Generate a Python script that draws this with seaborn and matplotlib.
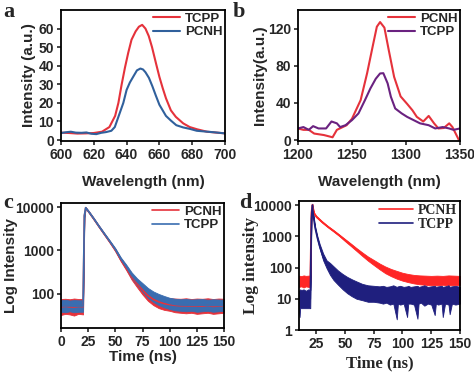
import numpy as np
import pandas as pd
import matplotlib
matplotlib.use("Agg")
import matplotlib.pyplot as plt
import seaborn as sns

# ---- panel a: emission spectra (600-700 nm)
a_wl_tcpp = [600, 605, 610, 615, 620, 625, 629.5, 633, 635, 637, 639, 641, 643, 645.5, 647.5,
             649.5, 651.5, 653.5, 655.5, 658, 660, 662, 664, 667, 670, 674.5, 678.5, 683,
             689, 695, 700]
a_tcpp = [4, 3.8, 3.5, 3.6, 3.8, 4.5, 7, 13, 20, 30, 39, 47, 54, 58.5, 61,
          62, 60, 56, 50, 41, 34, 28, 22.5, 16, 12.5, 9, 7, 5.8,
          4.5, 4, 3.6]
a_wl_pcnh = [600, 603, 606, 609, 612.5, 615.5, 618.5, 621.5, 624.5, 627.5, 630.7, 632.8, 636,
             638, 640, 642, 644.3, 646.3, 648.4, 650, 651.5, 653.6, 655.7, 657.8, 660, 662,
             664, 667, 670.3, 674.5, 678.7, 682.8, 688, 693.3, 700]
a_pcnh = [3.8, 4.2, 4.5, 4.0, 3.9, 4.1, 3.4, 3.2, 3.9, 4.3, 5, 7, 15,
          20, 27, 31, 34.5, 37.5, 38.5, 38, 36.5, 33.5, 29, 24, 19, 16,
          13, 10.5, 8, 6.8, 6, 5, 4.6, 4.2, 3.6]
a_yticks = [0, 10, 20, 30, 40, 50, 60]

# ---- panel b: NIR emission (1200-1350 nm)
b_wl_pcnh = [1200, 1205, 1210, 1215, 1224, 1232, 1236, 1245, 1250, 1258, 1264, 1269, 1273,
             1276, 1280, 1284, 1289, 1295, 1301, 1306, 1310, 1316, 1321, 1326, 1330, 1335,
             1340, 1343, 1346, 1349]
b_pcnh = [12.5, 11, 11, 7, 5.4, 3, 11, 16, 23, 43, 72, 100, 122,
          127, 121, 97, 68, 47, 39, 32, 25, 20, 26, 18, 12.5, 13,
          18, 14, 7, 0]
b_wl_tcpp = [1200, 1205, 1210, 1214, 1219, 1226, 1231, 1236, 1239, 1244, 1250, 1256, 1262,
             1267, 1272, 1276, 1279, 1283, 1286, 1290, 1296, 1301, 1307, 1313, 1321, 1327,
             1334, 1340, 1344, 1350]
b_tcpp = [12.5, 14, 11, 15, 12.5, 12.5, 20, 18, 14, 16, 21.5, 28.7, 43,
          55.5, 66, 71.7, 72, 61, 46.6, 34, 28.7, 25, 21.5, 18, 16, 12.5,
          14, 12.5, 11, 12.5]
b_yticks = [0, 40, 80, 120]

# ---- panel c: decay curves (noise band given as low / high envelopes)
c_t = [0, 4, 8, 12, 16, 20.3, 21.5, 22.7, 26, 30, 35, 40, 45, 50, 55, 60, 65, 70, 75,
       80, 85, 90, 95, 100, 105, 110, 115, 120, 125, 130, 135, 140, 145, 150]
c_pcnh_lo = [32, 34, 33, 31, 34, 33, 5700, 9400, 7200, 5200, 3400, 2250, 1480, 950, 560,
             350, 210, 140, 95, 68, 54, 46, 42, 40, 37, 36, 35, 36, 34, 35, 36, 34, 35, 36]
c_pcnh_hi = [75, 76, 74, 77, 75, 75, 6900, 10000, 7800, 5650, 3700, 2450, 1640, 1090, 660,
             440, 290, 210, 160, 120, 100, 90, 82, 78, 77, 76, 78, 75, 77, 76, 78, 75, 77, 76]
c_tcpp_lo = [38, 37, 39, 37, 38, 38, 5800, 9500, 7300, 5300, 3450, 2300, 1530, 1000, 600,
             380, 230, 160, 112, 80, 64, 54, 48, 44, 41, 40, 39, 40, 38, 39, 40, 38, 39, 40]
c_tcpp_hi = [70, 72, 69, 71, 70, 70, 7000, 10000, 7900, 5700, 3750, 2500, 1680, 1120, 690,
             470, 310, 225, 175, 135, 112, 98, 88, 80, 76, 74, 75, 73, 74, 75, 72, 74, 73, 72]

# ---- panel d
d_t_pcnh = [10, 12, 14, 16, 18, 19.8, 20.8, 21.6, 23, 25, 30, 35, 40, 45, 50, 55, 60, 65,
            70, 75, 80, 85, 90, 95, 100, 105, 110, 115, 120, 125, 130, 135, 140, 145, 150]
d_pcnh_lo = [24, 25, 23, 25, 24, 24, 5000, 9200, 5100, 4050, 2750, 1950, 1420, 1020, 700,
             490, 340, 235, 165, 120, 88, 66, 53, 44, 38, 34, 31, 29, 28, 27, 27, 28, 27, 27, 28]
d_pcnh_hi = [55, 53, 56, 54, 55, 55, 6500, 11000, 5900, 4550, 3050, 2150, 1580, 1140, 820,
             590, 420, 305, 225, 175, 135, 108, 90, 78, 68, 62, 58, 56, 55, 54, 55, 54, 56, 55, 54]
d_t_tcpp = [10, 10.5, 11, 12, 14, 16, 18, 19.8, 20.8, 21.6, 22.5, 24, 26, 28, 31, 34, 37, 40,
            44, 48, 52, 56, 60, 65, 70, 75, 80, 83, 86, 89, 92, 95, 96, 98, 101, 104, 105,
            107, 110, 113, 114, 116, 119, 122, 125, 128, 129, 131, 134, 135, 137, 140, 141,
            143, 146, 150]
d_tcpp_lo = [4, 2.6, 5, 5, 5, 5, 5, 5,
             3000, 9000, 4000, 1700, 780, 400, 170, 95, 58, 40,
             28, 20, 15, 12, 10, 9, 8, 8, 7.5,
             7, 7.5, 6.5, 7, 2.2, 7, 6.5, 7, 2.6, 7,
             7, 6.5, 2.3, 7, 7.5, 6, 7, 6.5, 3, 7,
             6.5, 7, 2.6, 7, 6.5, 3.2, 7, 6.5, 7]
d_tcpp_hi = [18, 19, 20, 19, 20, 18, 20, 19,
             4500, 11000, 5000, 2100, 1000, 560, 280, 170, 140, 110,
             80, 62, 50, 42, 36, 30, 27, 26, 25,
             26, 24, 25, 27, 24, 25, 26, 24, 25, 26,
             24, 25, 26, 24, 25, 27, 24, 25, 26, 24,
             25, 26, 24, 25, 27, 24, 25, 26, 24]
log_c_ticks = [100, 1000, 10000]
log_d_ticks = [1, 10, 100, 1000, 10000]

RED = "#e5323b"
BLUE = "#30609c"
PURPLE = "#6a2280"
RED_D = "#ff2626"
NAVY = "#1f1f7e"

sns.set_theme(style="ticks")
plt.rcParams["font.family"] = ["Liberation Sans", "DejaVu Sans"]
plt.rcParams["font.weight"] = "bold"
plt.rcParams["axes.labelweight"] = "bold"
plt.rcParams["axes.linewidth"] = 1.3
plt.rcParams["xtick.major.width"] = 1.2
plt.rcParams["ytick.major.width"] = 1.2
plt.rcParams["xtick.major.size"] = 3
plt.rcParams["ytick.major.size"] = 3

fig = plt.figure(figsize=(4.74, 3.74), dpi=100)
W, H = 474, 374


def box(l, r, t, b):
    return [l / W, 1 - b / H, (r - l) / W, (b - t) / H]


ax_a = fig.add_axes(box(61, 225, 10, 141))
ax_b = fig.add_axes(box(298, 460, 10, 141))
ax_c = fig.add_axes(box(61, 224, 203, 328))
ax_d = fig.add_axes(box(299, 460, 201, 330))

TICK = 10
LAB = 11
sans_leg = {"family": "Liberation Sans", "weight": "bold", "size": 9.5}
serif_leg = {"family": "Liberation Serif", "weight": "bold", "size": 10}

# a
sns.lineplot(x=a_wl_tcpp, y=a_tcpp, color=RED, lw=1.5, label="TCPP", ax=ax_a)
sns.lineplot(x=a_wl_pcnh, y=a_pcnh, color=BLUE, lw=1.5, label="PCNH", ax=ax_a)
ax_a.set_xlim(600, 700)
ax_a.set_ylim(-0.5, 70)
ax_a.set_xticks([600, 620, 640, 660, 680, 700])
ax_a.set_yticks(a_yticks)
ax_a.set_yticklabels([str(v) for v in a_yticks])
ax_a.set_xlabel("Wavelength (nm)", fontsize=LAB)
ax_a.set_ylabel("Intensity (a.u.)", fontsize=LAB)
ax_a.xaxis.set_label_coords(0.5, -0.26)
ax_a.yaxis.set_label_coords(-0.155, 0.5)

# b
sns.lineplot(x=b_wl_pcnh, y=b_pcnh, color=RED, lw=1.5, label="PCNH", ax=ax_b)
sns.lineplot(x=b_wl_tcpp, y=b_tcpp, color=PURPLE, lw=1.5, label="TCPP", ax=ax_b)
ax_b.set_xlim(1200, 1350)
ax_b.set_ylim(-1, 140)
ax_b.set_xticks([1200, 1250, 1300, 1350])
ax_b.set_yticks(b_yticks)
ax_b.set_yticklabels([str(v) for v in b_yticks])
ax_b.set_xlabel("Wavelength (nm)", fontsize=LAB)
ax_b.set_ylabel("Intensity(a.u.)", fontsize=LAB)
ax_b.xaxis.set_label_coords(0.5, -0.26)
ax_b.yaxis.set_label_coords(-0.19, 0.5)


def decay(ax, t, lo, hi, color, label):
    df = pd.DataFrame({"t": list(t) + list(t), "y": list(lo) + list(hi)})
    sns.lineplot(data=df, x="t", y="y", color=color, lw=1.2, label=label,
                 estimator="mean", errorbar=("pi", 100),
                 err_kws={"alpha": 1, "linewidth": 0.6, "edgecolor": color}, ax=ax)


# c
ax_c.set_yscale("log")
decay(ax_c, c_t, c_pcnh_lo, c_pcnh_hi, RED, "PCNH")
decay(ax_c, c_t, c_tcpp_lo, c_tcpp_hi, "#3a6db0", "TCPP")
ax_c.set_xlim(0, 150)
ax_c.set_ylim(16, 12500)
ax_c.set_xticks([0, 25, 50, 75, 100, 125, 150])
ax_c.set_yticks(log_c_ticks)
ax_c.set_yticklabels([str(v) for v in log_c_ticks])
ax_c.minorticks_off()
ax_c.set_xlabel("Time (ns)", fontsize=LAB)
ax_c.set_ylabel("Log Intensity", fontsize=LAB)
ax_c.xaxis.set_label_coords(0.5, -0.18)
ax_c.yaxis.set_label_coords(-0.265, 0.5)

# d
ax_d.set_yscale("log")
decay(ax_d, d_t_pcnh, d_pcnh_lo, d_pcnh_hi, RED_D, "PCNH")
decay(ax_d, d_t_tcpp, d_tcpp_lo, d_tcpp_hi, NAVY, "TCPP")
ax_d.set_xlim(10, 150)
ax_d.set_ylim(1, 13500)
ax_d.set_xticks([25, 50, 75, 100, 125, 150])
ax_d.set_yticks(log_d_ticks)
ax_d.set_yticklabels([str(v) for v in log_d_ticks])
ax_d.minorticks_off()
ax_d.set_xlabel("Time (ns)", fontsize=12, family="Liberation Serif")
ax_d.set_ylabel("Log intensity", fontsize=12.5, family="Liberation Serif")
ax_d.xaxis.set_label_coords(0.5, -0.195)
ax_d.yaxis.set_label_coords(-0.25, 0.5)

for ax in (ax_a, ax_b, ax_c, ax_d):
    ax.tick_params(labelsize=TICK, direction="out", pad=2)
    for s in ax.spines.values():
        s.set_visible(True)
        s.set_color("black")
    ax.grid(False)

for ax in (ax_a, ax_b, ax_c):
    ax.legend(loc="upper right", frameon=False, prop=sans_leg, handlelength=2.0,
              labelspacing=0.1, borderaxespad=0.1, borderpad=0.1, handletextpad=0.4)
ax_d.legend(loc="upper right", frameon=False, prop=serif_leg, handlelength=2.4,
            labelspacing=0.1, borderaxespad=0.1, borderpad=0.1, handletextpad=0.4)

for lab, x, y in [("a", 3, 17), ("b", 233, 17), ("c", 3, 208), ("d", 239, 208)]:
    fig.text(x / W, 1 - y / H, lab, family="Liberation Serif", weight="bold",
             fontsize=16, va="baseline", ha="left")

fig.savefig("out.png", dpi=100)
